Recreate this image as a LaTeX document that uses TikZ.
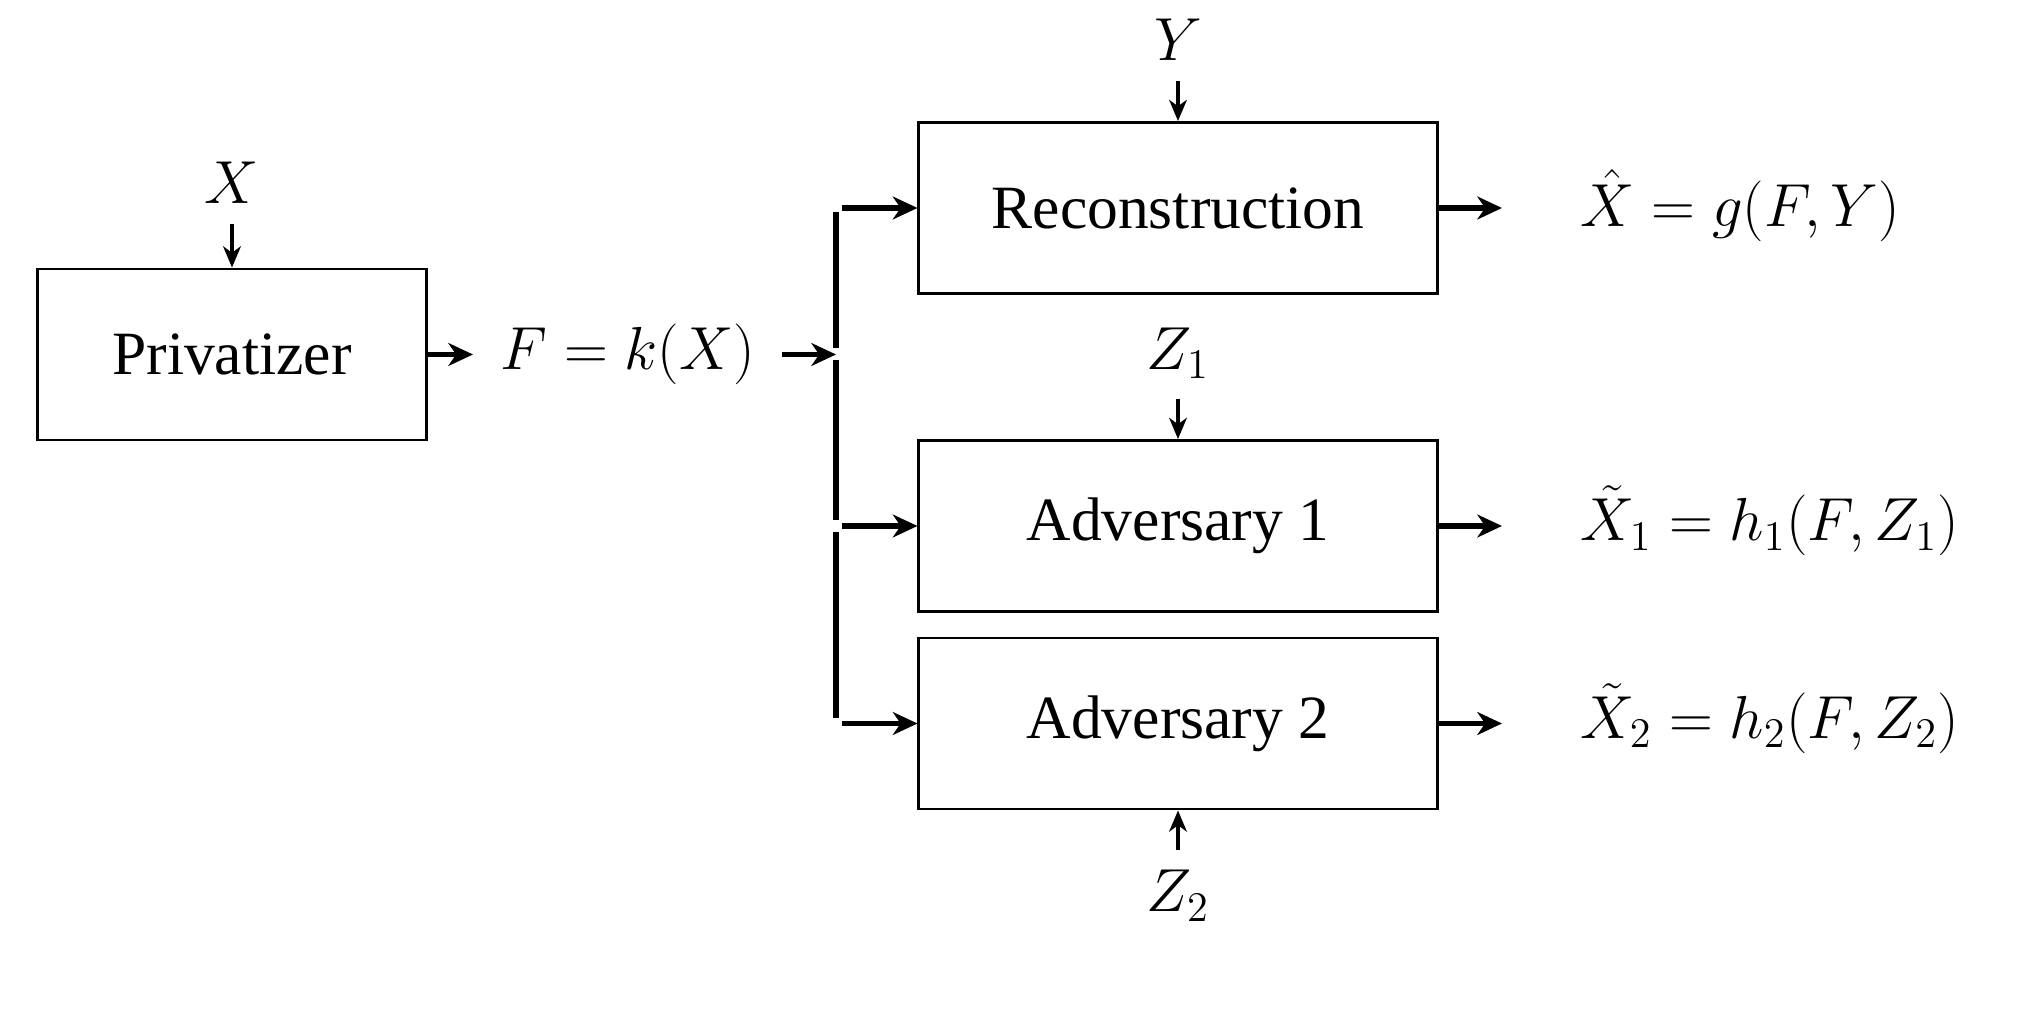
\documentclass[tikz,border=0pt]{standalone}
\usepackage{fontspec}
\setmainfont{Liberation Serif}
\usetikzlibrary{arrows.meta}
\begin{document}
\begin{tikzpicture}[x=0.01cm,y=-0.01cm,
  every node/.style={font=\fontsize{17.5}{20}\selectfont},
  blk/.style={draw, line width=0.8pt, minimum height=1.71cm, inner sep=0pt},
  wideblk/.style={blk, minimum width=5.18cm},
  lab/.style={inner sep=5.6pt},
  arr/.style={line width=1.5pt, -{Stealth[length=7pt,width=6.5pt,inset=2.2pt]}},
  inarr/.style={line width=1.2pt, -{Stealth[length=6pt,width=5pt,inset=1.8pt]}},
  bus/.style={line width=1.6pt}]
\useasboundingbox (0,0) rectangle (2036,1016);
% blocks
\node[blk, minimum width=3.88cm] (priv) at (232,354.5) {Privatizer};
\node[wideblk] (rec) at (1178,208) {Reconstruction};
\node[wideblk] (adv1) at (1178,526) {Adversary 1};
\node[wideblk] (adv2) at (1178,723.5) {Adversary 2};
% input labels
\node[lab, anchor=base] (X) at (232,204) {$X$};
\node[lab, anchor=base] (Y) at (1178,61) {$Y$};
\node[lab, anchor=south] (Z1) at (1178,399) {$Z_1$};
\node[lab, anchor=north] (Z2) at (1178,850) {$Z_2$};
\draw[inarr] (X.south) -- (priv.north);
\draw[inarr] (Y.south) -- (rec.north);
\draw[inarr] (Z1.south) -- (adv1.north);
\draw[inarr] (Z2.north) -- (adv2.south);
% F = k(X)
\node[lab, anchor=west] (F) at (480,354.5) {$F = k(X)$};
\draw[arr, shorten >=2pt] (priv.east) -- (F.west);
\coordinate (j) at (836,354.5);
\draw[arr, shorten <=2pt] (F.east) -- (j);
% bus
\coordinate (t) at (836,212);
\coordinate (g1a) at (836,348);
\coordinate (g1b) at (836,360);
\coordinate (g2a) at (836,520);
\coordinate (g2b) at (836,532);
\coordinate (bot) at (836,718);
\draw[bus] (t) -- (g1a);
\draw[bus] (g1b) -- (g2a);
\draw[bus] (g2b) -- (bot);
\coordinate (b0) at (842,208);
\coordinate (b1) at (842,526);
\coordinate (b2) at (842,723.5);
\draw[arr] (b0) -- (rec.west);
\draw[arr] (b1) -- (adv1.west);
\draw[arr] (b2) -- (adv2.west);
% outputs
\node[lab, anchor=base west] (xh) at (1560,227) {$\hat{X} = g(F,Y)$};
\node[lab, anchor=base west] (x1) at (1560,541) {$\tilde{X}_1 = h_1(F,Z_1)$};
\node[lab, anchor=base west] (x2) at (1560,738.5) {$\tilde{X}_2 = h_2(F,Z_2)$};
\draw[arr, shorten >=0.58cm] (rec.east) -- (rec.east -| xh.west);
\draw[arr, shorten >=0.58cm] (adv1.east) -- (adv1.east -| x1.west);
\draw[arr, shorten >=0.58cm] (adv2.east) -- (adv2.east -| x2.west);
\end{tikzpicture}
\end{document}
